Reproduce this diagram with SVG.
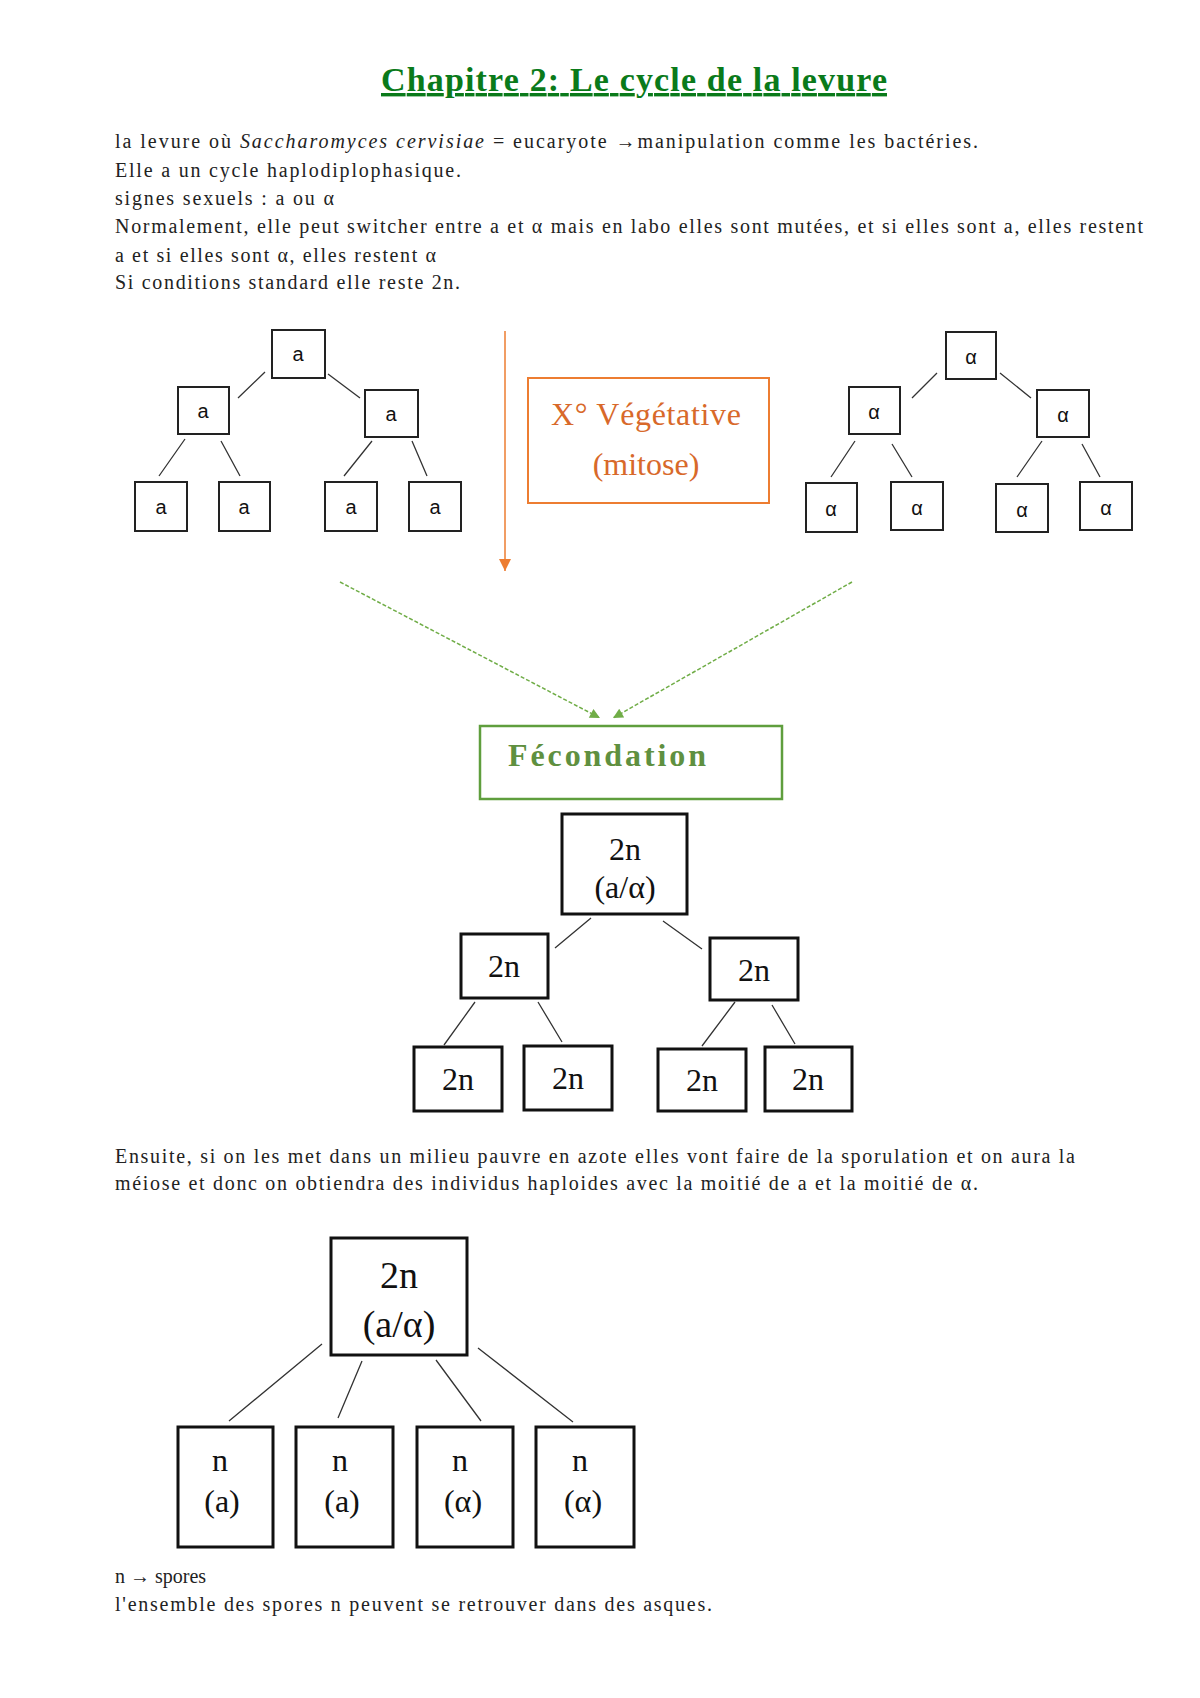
<svg xmlns="http://www.w3.org/2000/svg" width="1200" height="1698" viewBox="0 0 1200 1698">
<style>
.t{font-family:"Liberation Serif","Times New Roman",serif;font-size:20px;fill:#222}
.s{font-family:"Liberation Sans",Arial,sans-serif;font-size:20px;fill:#111;text-anchor:middle}
.g{font-family:"Liberation Serif","Times New Roman",serif;fill:#111;text-anchor:middle}
.b1{fill:#fff;stroke:#222;stroke-width:2}
.b3{fill:#fff;stroke:#111;stroke-width:3}
.ln{stroke:#333;stroke-width:1.3;fill:none}
</style>
<defs>
<marker id="ao" viewBox="0 0 10 10" refX="10" refY="5" markerWidth="8" markerHeight="8" orient="auto"><path d="M0,0L10,5L0,10z" fill="#ed7d31"/></marker>
<marker id="ag" viewBox="0 0 10 10" refX="10" refY="5" markerWidth="14" markerHeight="10" markerUnits="userSpaceOnUse" orient="auto"><path d="M0,0L10,5L0,10z" fill="#70ad47"/></marker>
</defs>
<rect width="1200" height="1698" fill="#fff"/>
<text x="634" y="91" text-anchor="middle" font-family="Liberation Serif,serif" font-size="34" font-weight="bold" fill="#0a7a1a" text-decoration="underline" textLength="506">Chapitre 2: Le cycle de la levure</text>
<text class="t" x="115" y="148" textLength="863">la levure où <tspan font-style="italic">Saccharomyces cervisiae</tspan> = eucaryote →manipulation comme les bactéries.</text>
<text class="t" x="115" y="177" textLength="346">Elle a un cycle haplodiplophasique.</text>
<text class="t" x="115" y="205" textLength="219">signes sexuels : a ou α</text>
<text class="t" x="115" y="233" textLength="1028">Normalement, elle peut switcher entre a et α mais en labo elles sont mutées, et si elles sont a, elles restent</text>
<text class="t" x="115" y="262" textLength="321">a et si elles sont α, elles restent α</text>
<text class="t" x="115" y="289" textLength="345">Si conditions standard elle reste 2n.</text>
<g id="connectors">
<path class="ln" d="M265,372L238,398M328,374L360,398M185,439L159,476M221,441L240,476M372,441L344,476M412,441L427,476"/>
<path class="ln" d="M937,373L912,398M1000,373L1031,398M855,441L831,477M892,444L912,477M1042,441L1017,477M1082,444L1100,477"/>
<line x1="505" y1="331" x2="505" y2="571" stroke="#ed7d31" stroke-width="1.5" marker-end="url(#ao)"/>
<line x1="340" y1="582" x2="600" y2="718" stroke="#70ad47" stroke-width="1.5" stroke-dasharray="4,2" marker-end="url(#ag)"/>
<line x1="852" y1="582" x2="613" y2="718" stroke="#70ad47" stroke-width="1.5" stroke-dasharray="4,2" marker-end="url(#ag)"/>
<path class="ln" d="M591,918L555,948M663,921L702,949M475,1002L444,1045M538,1002L562,1042M735,1002L702,1046M772,1005L795,1044"/>
<path class="ln" d="M322,1344L229,1421M362,1361L338,1418M436,1360L481,1421M478,1348L573,1422"/>
</g>
<g id="left-tree">
<rect class="b1" x="272" y="330" width="53" height="48"/><text class="s" x="298" y="361">a</text>
<rect class="b1" x="178" y="387" width="51" height="47"/><text class="s" x="203" y="418">a</text>
<rect class="b1" x="365" y="390" width="53" height="47"/><text class="s" x="391" y="421">a</text>
<rect class="b1" x="135" y="482" width="52" height="49"/><text class="s" x="161" y="514">a</text>
<rect class="b1" x="219" y="482" width="51" height="49"/><text class="s" x="244" y="514">a</text>
<rect class="b1" x="325" y="482" width="52" height="49"/><text class="s" x="351" y="514">a</text>
<rect class="b1" x="409" y="482" width="52" height="49"/><text class="s" x="435" y="514">a</text>
</g>
<g id="vegetative">
<rect x="528" y="378" width="241" height="125" fill="#fff" stroke="#ed7d31" stroke-width="2"/>
<text x="646" y="425" text-anchor="middle" font-family="Liberation Serif,serif" font-size="32" fill="#d8692a" textLength="190">X° Végétative</text>
<text x="646" y="475" text-anchor="middle" font-family="Liberation Serif,serif" font-size="32" fill="#d8692a">(mitose)</text>
</g>
<g id="right-tree">
<rect class="b1" x="946" y="332" width="50" height="47"/><text class="s" x="971" y="364">α</text>
<rect class="b1" x="849" y="387" width="51" height="47"/><text class="s" x="874" y="419">α</text>
<rect class="b1" x="1037" y="390" width="52" height="47"/><text class="s" x="1063" y="422">α</text>
<rect class="b1" x="806" y="483" width="51" height="49"/><text class="s" x="831" y="516">α</text>
<rect class="b1" x="891" y="482" width="52" height="48"/><text class="s" x="917" y="515">α</text>
<rect class="b1" x="996" y="484" width="52" height="48"/><text class="s" x="1022" y="517">α</text>
<rect class="b1" x="1080" y="482" width="52" height="48"/><text class="s" x="1106" y="515">α</text>
</g>
<g id="fecondation">
<rect x="480" y="726" width="302" height="73" fill="#fff" stroke="#5f9e3d" stroke-width="2.5"/>
<text x="508" y="766" font-family="Liberation Serif,serif" font-size="32" font-weight="bold" fill="#5f9040" textLength="198">Fécondation</text>
</g>
<g id="tree-2n">
<rect class="b3" x="562" y="814" width="125" height="100"/>
<text class="g" x="625" y="860" font-size="32">2n</text><text class="g" x="625" y="898" font-size="32">(a/α)</text>
<rect class="b3" x="461" y="934" width="87" height="64"/><text class="g" x="504" y="977" font-size="32">2n</text>
<rect class="b3" x="710" y="938" width="88" height="62"/><text class="g" x="754" y="981" font-size="32">2n</text>
<rect class="b3" x="414" y="1047" width="88" height="64"/><text class="g" x="458" y="1090" font-size="32">2n</text>
<rect class="b3" x="524" y="1046" width="88" height="64"/><text class="g" x="568" y="1089" font-size="32">2n</text>
<rect class="b3" x="658" y="1049" width="88" height="62"/><text class="g" x="702" y="1091" font-size="32">2n</text>
<rect class="b3" x="765" y="1047" width="87" height="64"/><text class="g" x="808" y="1090" font-size="32">2n</text>
</g>
<text class="t" x="115" y="1163" textLength="960">Ensuite, si on les met dans un milieu pauvre en azote elles vont faire de la sporulation et on aura la</text>
<text class="t" x="115" y="1190" textLength="863">méiose et donc on obtiendra des individus haploides avec la moitié de a et la moitié de α.</text>
<g id="meiose">
<rect class="b3" x="331" y="1238" width="136" height="117"/>
<text class="g" x="399" y="1288" font-size="38">2n</text><text class="g" x="399" y="1337" font-size="38">(a/α)</text>
<rect class="b3" x="178" y="1427" width="95" height="120"/><text class="g" x="220" y="1471" font-size="32">n</text><text class="g" x="222" y="1512" font-size="32">(a)</text>
<rect class="b3" x="296" y="1427" width="97" height="120"/><text class="g" x="340" y="1471" font-size="32">n</text><text class="g" x="342" y="1512" font-size="32">(a)</text>
<rect class="b3" x="417" y="1427" width="96" height="120"/><text class="g" x="460" y="1471" font-size="32">n</text><text class="g" x="463" y="1512" font-size="32">(α)</text>
<rect class="b3" x="536" y="1427" width="98" height="120"/><text class="g" x="580" y="1471" font-size="32">n</text><text class="g" x="583" y="1512" font-size="32">(α)</text>
</g>
<text class="t" x="115" y="1583">n → spores</text>
<text class="t" x="115" y="1611" textLength="597">l'ensemble des spores n peuvent se retrouver dans des asques.</text>
</svg>
